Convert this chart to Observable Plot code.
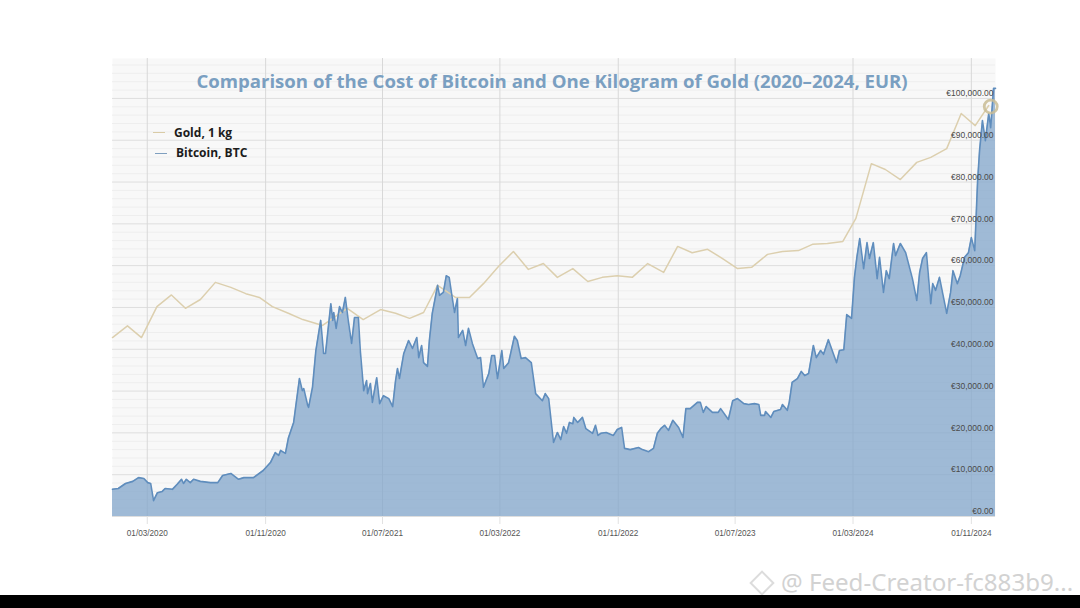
<!DOCTYPE html>
<html>
<head>
<meta charset="utf-8">
<script src="https://cdn.jsdelivr.net/npm/d3@7"></script>
<script src="https://cdn.jsdelivr.net/npm/@observablehq/plot@0.6"></script>
<style>
html,body{margin:0;padding:0;background:#fff;overflow:hidden}
#stage{position:relative;width:1080px;height:608px;overflow:hidden}
#chart svg{display:block}
.abs{position:absolute;white-space:nowrap}
#title{left:112px;width:880px;top:68px;text-align:center;font:700 18.6px "Open Sans",sans-serif;color:#7a9fc1;line-height:26px}
.lg{font:700 12px "Open Sans",sans-serif;color:#1c1c1c;line-height:14px}
.sw{height:1px;width:12px}
#bar{left:0;top:595px;width:1080px;height:13px;background:#000}
#wm{left:781px;top:567px;font:400 24.1px "Noto Sans",sans-serif;color:#d2d2d2;line-height:30px}
#logo{left:753px;top:574px;width:14px;height:14px;border:2px solid #dcdcdc;transform:rotate(45deg)}
</style>
</head>
<body>
<div id="stage">
<div id="chart"></div>
<div class="abs" id="title">Comparison of the Cost of Bitcoin and One Kilogram of Gold (2020–2024, EUR)</div>
<div class="abs sw" style="left:153px;top:132px;background:#d9cba6"></div>
<div class="abs lg" style="left:174px;top:126px">Gold, 1 kg</div>
<div class="abs sw" style="left:155px;top:153px;background:#7f9fbf"></div>
<div class="abs lg" style="left:176px;top:146px">Bitcoin, BTC</div>
<div class="abs" id="logo"></div>
<div class="abs" id="wm">@ Feed-Creator-fc883b9...</div>
<div class="abs" id="bar"></div>
</div>
<script>
const startDate = new Date(Date.UTC(2019, 11, 20));
const lastDay = 1828;

const xTickDates = ["2020-03-01","2020-11-01","2021-07-01","2022-03-01","2022-11-01","2023-07-01","2024-03-01","2024-11-01"];
const yTickValues = [0,10000,20000,30000,40000,50000,60000,70000,80000,90000,100000];

const goldDay = [0,31,60,92,122,151,182,213,245,276,304,331,364,394,435,461,486,519,555,586,615,644,673,710,739,768,799,830,861,892,921,953,984,1014,1045,1076,1108,1141,1170,1200,1232,1263,1294,1323,1356,1387,1420,1449,1480,1512,1539,1571,1600,1631,1665,1694,1727,1757,1786,1814];
const goldEur = [42800,45600,42800,50200,53000,49800,51900,56000,54800,53300,52400,50200,48600,47100,45700,47800,49800,47100,49500,48600,47400,48800,55300,52400,52400,55700,59800,63400,59100,60500,57200,59300,56200,57200,57600,57200,60500,58400,64600,63100,63900,61700,59300,59600,62700,63400,63600,65100,65300,65800,71300,84400,83000,80600,84700,85900,88000,96400,93500,98300];

const btcDay = [0,12,27,42,54,65,73,79,85,93,103,109,124,134,143,147,153,161,168,182,203,218,228,245,261,272,292,312,327,337,344,348,358,364,375,387,393,396,404,406,414,421,431,437,441,452,456,458,463,470,476,482,488,495,501,509,513,520,526,528,534,538,547,553,561,572,580,586,590,594,603,613,621,630,634,640,644,652,656,662,673,677,685,691,697,702,708,714,716,725,731,737,745,756,762,768,779,785,791,797,806,810,820,832,838,846,855,867,876,890,896,903,913,921,928,934,940,946,953,955,963,973,980,994,1000,1005,1011,1022,1037,1045,1054,1060,1072,1089,1097,1110,1120,1128,1135,1143,1151,1160,1172,1181,1187,1196,1211,1217,1223,1229,1242,1254,1259,1275,1284,1294,1307,1317,1329,1338,1342,1350,1352,1363,1369,1383,1387,1397,1401,1407,1418,1426,1433,1441,1451,1457,1466,1472,1482,1499,1505,1514,1520,1530,1536,1541,1547,1555,1562,1567,1575,1583,1588,1596,1602,1608,1617,1621,1631,1642,1656,1665,1671,1677,1685,1694,1698,1704,1712,1727,1735,1740,1749,1755,1764,1772,1778,1785,1791,1795,1801,1807,1814,1818,1824,1828];
const btcEur = [6500,6700,7900,8400,9300,9100,8100,7900,3800,5700,6000,6700,6500,7700,8900,7900,8900,8100,8900,8400,8100,8100,9800,10300,8900,9300,9300,11000,12900,15300,14600,15800,15100,18700,22500,33000,30100,30600,26600,26100,30900,39700,46900,39000,39000,50900,46900,48800,45000,50200,48800,52400,46900,41400,47600,47600,39700,30100,32500,29400,31800,27300,33200,27000,28900,28200,26300,32500,35400,33000,39000,42100,40200,42800,38000,40900,36800,35900,42100,48600,55300,52900,53600,57600,57200,53300,48800,52100,42800,44500,40900,45000,41400,37800,38000,30900,34200,38500,38500,33000,39700,35400,36800,43100,42100,37800,38000,36800,29400,27700,29400,28200,17700,20100,18400,21500,19900,22500,22200,23700,22500,23700,21000,19900,21800,19400,19900,20100,19400,20800,21300,16300,16000,16500,16000,15500,16300,19900,21000,21800,20600,23000,21300,18900,25800,25800,27300,27300,24900,26300,24900,24900,25800,23200,27700,28200,27000,26800,27000,26800,24200,24200,25100,23700,25100,25600,26800,25400,27300,32100,33000,34700,33700,34200,40900,38000,39700,38800,42300,36800,39700,39900,48300,47400,57200,62000,66500,59300,65500,61700,65500,56900,62000,53600,58800,56900,65300,62400,65300,63100,56900,51700,58400,61700,63100,50900,55700,54100,57200,48600,53600,58800,55700,57600,62000,63100,66700,63600,80400,87500,94700,89900,96400,93000,102400,102400];

const toDate = d => d3.utcDay.offset(startDate, d);
const gold = goldDay.map((d, i) => ({date: toDate(d), eur: goldEur[i]}));
const btc = btcDay.map((d, i) => ({date: toDate(d), eur: btcEur[i]}));
const xTicks = xTickDates.map(s => new Date(s + "T00:00:00Z"));
const minorY = d3.range(0, 110000, 2000).filter(v => v % 10000 !== 0);

const chart = Plot.plot({
  width: 1080,
  height: 608,
  marginLeft: 112,
  marginRight: 85,
  marginTop: 58,
  marginBottom: 92,
  style: {background: "transparent", fontFamily: "'Liberation Sans', Arial, sans-serif"},
  x: {type: "utc", domain: [startDate, toDate(lastDay)]},
  y: {domain: [0, 109550]},
  marks: [
    Plot.frame({fill: "#f8f8f8", stroke: "none"}),
    Plot.ruleY(minorY, {stroke: "#eeeeee", strokeWidth: 1}),
    Plot.ruleY(yTickValues, {stroke: "#dedede", strokeWidth: 1}),
    Plot.ruleX(xTicks, {stroke: "#d8d8d8", strokeWidth: 1}),
    Plot.areaY(btc, {x: "date", y: "eur", fill: "#82a5cb", fillOpacity: 0.75}),
    Plot.lineY(gold, {x: "date", y: "eur", stroke: "#dccfae", strokeWidth: 1.5}),
    Plot.lineY(btc, {x: "date", y: "eur", stroke: "#5f8dbd", strokeWidth: 1.6}),
    Plot.dot(gold.slice(-1), {x: "date", y: "eur", r: 6.5, stroke: "#c9bc94", strokeOpacity: 0.85, strokeWidth: 2.8, fill: "none", dx: 2, dy: 1}),
    Plot.axisX({ticks: xTicks, tickFormat: d3.utcFormat("%d/%m/%Y"), tickSize: 8, tickPadding: 6, stroke: "#e2e2e2", fill: "#555", fontSize: 8.2, label: null}),
    Plot.axisY({anchor: "right", ticks: yTickValues, tickFormat: d => "€" + d3.format(",.2f")(d), tickSize: 0, tickPadding: -2, textAnchor: "end", dy: -5, fill: "#4a4a4a", fontSize: 8.5, label: null})
  ]
});
document.getElementById("chart").appendChild(chart);
</script>
</body>
</html>
